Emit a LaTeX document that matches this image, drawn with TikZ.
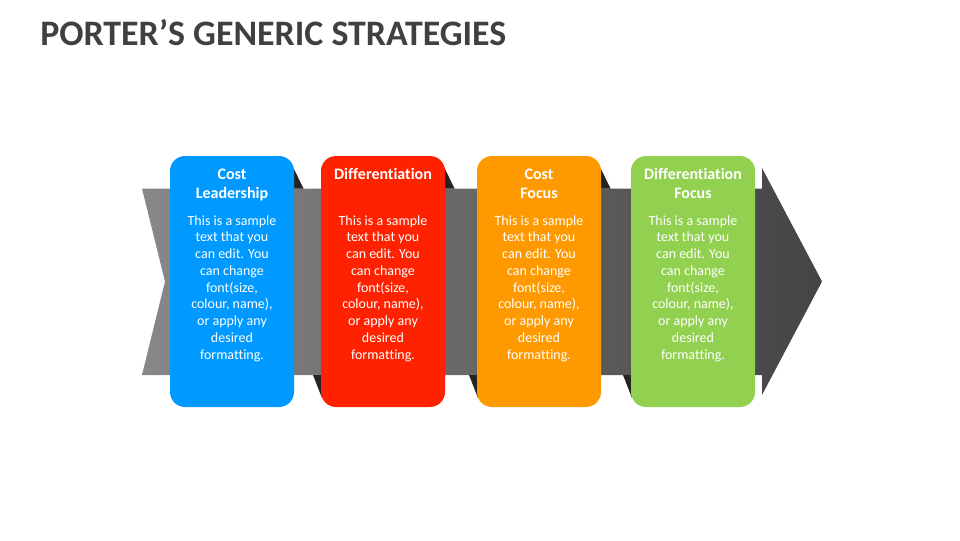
\documentclass[tikz,border=0pt]{standalone}
\usepackage{fontspec}
\setmainfont{Carlito}[Ligatures=NoCommon]
\definecolor{cblue}{HTML}{0099FF}
\definecolor{cred}{HTML}{FF2200}
\definecolor{corange}{HTML}{FF9900}
\definecolor{cgreen}{HTML}{92D050}
\definecolor{ctitle}{HTML}{404040}
\definecolor{bandL}{HTML}{888888}
\definecolor{bandR}{HTML}{444444}
\definecolor{fold}{HTML}{242424}
\tikzset{
  card/.style={rounded corners=11.25pt, minimum width=93pt, minimum height=188.25pt, inner sep=0pt, draw=none},
  cardtitle/.style={anchor=base, text=white, align=center, inner sep=0pt, font=\fontsize{12pt}{14pt}\selectfont\bfseries},
  cardbody/.style={anchor=base, text=white, align=center, inner sep=0pt, font=\fontsize{10.5pt}{12.56pt}\selectfont},
  foldtri/.style={fill=fold, draw=none},
}
\begin{document}
\begin{tikzpicture}[x=0.75pt,y=-0.75pt]
\useasboundingbox (0,0) rectangle (960,540);
\node[anchor=base west, inner sep=0pt, text=ctitle, font=\fontsize{26.9pt}{30pt}\selectfont\bfseries] (title) at (40,45) {PORTER’S GENERIC STRATEGIES};
% band arrow
\shade[left color=bandL, right color=bandR] (142,188.5) -- (762,188.5) -- (762,168) -- (822,281.5) -- (762,395) -- (762,375) -- (142,375) -- (165,281.5) -- cycle;
% fold shadows
\fill[foldtri] (292,165) -- (303.5,188.5) -- (288,188.5) -- cycle;
\fill[foldtri] (313,375) -- (326,375) -- (322,398) -- cycle;
\fill[foldtri] (443,165) -- (454.5,188.5) -- (439,188.5) -- cycle;
\fill[foldtri] (469,375) -- (482,375) -- (478,398) -- cycle;
\fill[foldtri] (599,165) -- (610.5,188.5) -- (595,188.5) -- cycle;
\fill[foldtri] (623,375) -- (636,375) -- (632,398) -- cycle;
% cards
\node[card, fill=cblue] (c1) at (232,281.5) {};
\node[card, fill=cred] (c2) at (383,281.5) {};
\node[card, fill=corange] (c3) at (539,281.5) {};
\node[card, fill=cgreen] (c4) at (693,281.5) {};
% titles (anchor = baseline of last line)
\node[cardtitle] (t1) at (232,198) {Cost\\Leadership};
\node[cardtitle] (t2) at (383,179) {Differentiation};
\node[cardtitle] (t3) at (539,198) {Cost\\Focus};
\node[cardtitle] (t4) at (693,198) {Differentiation\\Focus};
% bodies
\foreach \cx/\nm in {232/b1,383/b2,539/b3,693/b4}{
  \node[cardbody] (\nm) at (\cx,359) {This is a sample\\text that you\\can edit. You\\can change\\font(size,\\colour, name),\\or apply any\\desired\\formatting.};
}
\end{tikzpicture}
\end{document}
